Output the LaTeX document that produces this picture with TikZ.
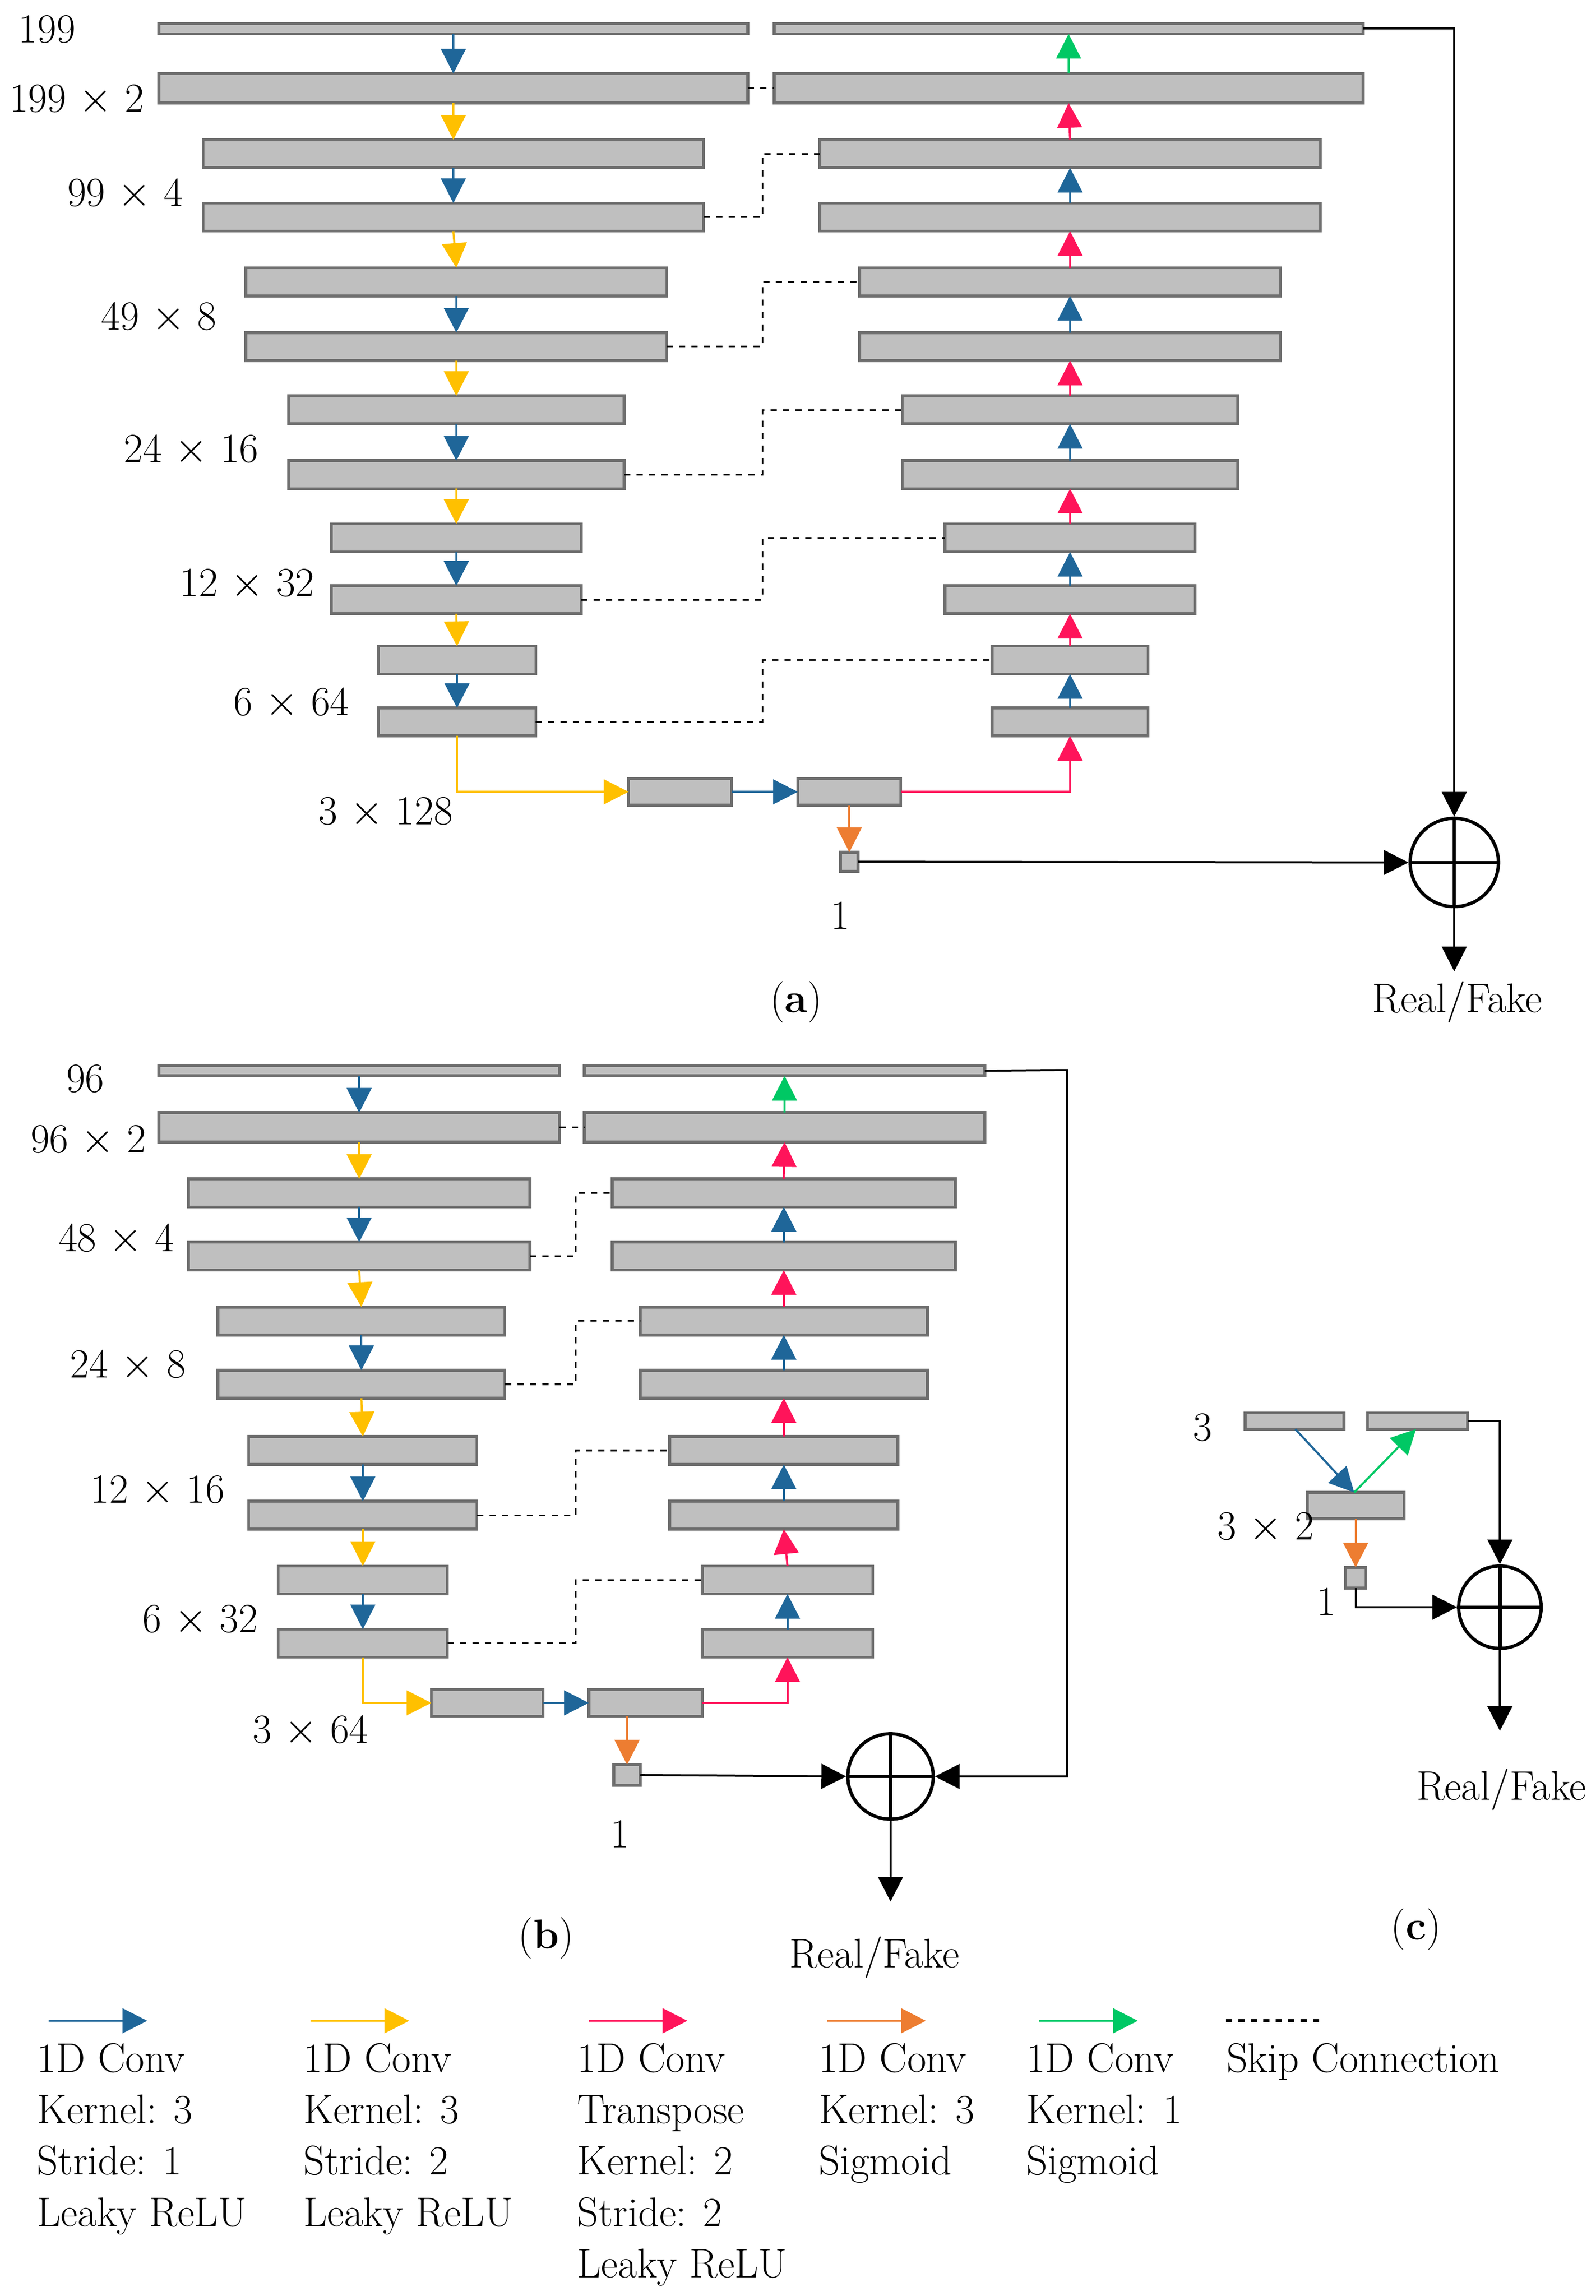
\documentclass[tikz,border=0pt]{standalone}
\usetikzlibrary{arrows.meta,calc}
\definecolor{cblue}{RGB}{31,102,153}
\definecolor{cyel}{RGB}{255,192,0}
\definecolor{cpink}{RGB}{255,20,90}
\definecolor{corg}{RGB}{237,125,49}
\definecolor{cgrn}{RGB}{0,200,100}
\definecolor{bfill}{RGB}{191,191,191}
\definecolor{bline}{RGB}{110,110,110}
\tikzset{
  blk/.style={draw=bline,fill=bfill,line width=1.4pt,inner sep=0pt,outer sep=0pt},
  tip/.style={-{Triangle[length=0.42cm,width=0.42cm]},line width=1pt},
  ab/.style={tip,draw=cblue},
  ay/.style={tip,draw=cyel},
  ap/.style={tip,draw=cpink},
  ao/.style={tip,draw=corg},
  ag/.style={tip,draw=cgrn},
  ak/.style={tip,draw=black},
  skip/.style={dashed,line width=0.8pt},
  lbl/.style={font=\fontsize{20}{24.8}\selectfont,inner sep=0pt},
  sum/.style={circle,draw,line width=1.6pt,minimum size=#1,inner sep=0pt},
}
% bar node: name, x1, x2, y1, y2
\newcommand\blk[5]{\node[blk,minimum width={(#3-#2)*0.025cm},minimum height={(#5-#4)*0.025cm}] (#1) at ({(#2+#3)/2},{(#4+#5)/2}) {};}
\begin{document}
\begin{tikzpicture}[x=0.025cm,y=-0.025cm]
  \useasboundingbox (0,0) rectangle (1084,1560);

  % ---- (a)
  \blk{aT}{108}{508}{16}{23}
  \blk{aL0}{108}{508}{50}{70}
  \blk{aRT}{526}{926}{16}{23}
  \blk{aR0}{526}{926}{50}{70}
  \foreach \i/\xa/\xb/\ya/\yb/\ra/\rb in {1/138/478/95/138/557/897,2/167/453/182/226/584/870,3/196/424/269/313/613/841,4/225/395/356/398/642/812,5/257/364/439/481/674/780}{
    \blk{aLu\i}{\xa}{\xb}{\ya}{\ya+19}
    \blk{aLd\i}{\xa}{\xb}{\yb}{\yb+19}
    \blk{aRu\i}{\ra}{\rb}{\ya}{\ya+19}
    \blk{aRd\i}{\ra}{\rb}{\yb}{\yb+19}
    \draw[ab] (aLu\i.south) -- (aLd\i.north);
    \draw[ab] (aRd\i.north) -- (aRu\i.south);
    \draw[skip] (aLd\i.east) -| (518,{\ya+9.5}) -- (aRu\i.west);
  }
  \foreach \i in {1,...,4}{
    \pgfmathtruncatemacro\j{\i+1}
    \draw[ay] (aLd\i.south) -- (aLu\j.north);
    \draw[ap] (aRu\j.north) -- (aRd\i.south);
  }
  \draw[ab] (aT.south) -- (aL0.north);
  \draw[ay] (aL0.south) -- (aLu1.north);
  \draw[ag] (aR0.north) -- (aRT.south);
  \draw[ap] (aRu1.north) -- (aR0.south);
  \draw[skip] (aL0.east) -- (aR0.west);
  \blk{aB1}{427}{497}{529}{547}
  \blk{aB2}{542}{612}{529}{547}
  \blk{aS}{571}{583}{579}{592}
  \draw[ay] (aLd5.south) |- (aB1.west);
  \draw[ab] (aB1.east) -- (aB2.west);
  \draw[ap] (aB2.east) -| (aRd5.south);
  \draw[ao] (577,547) -- (aS.north);
  \node[sum=1.5cm] (aSum) at (988,586) {};
  \draw[line width=1.6pt] (aSum.north) -- (aSum.south) (aSum.west) -- (aSum.east);
  \draw[ak] (aS.east) -- (aSum.west);
  \draw[ak] (aRT.east) -| (aSum.north);
  \coordinate (aOut) at (988,660);
  \draw[ak] (aSum.south) -- (aOut);
  \node[lbl] (la1) at (32,20) {199};
  \node[lbl] (la2) at (52,68) {199 $\times$ 2};
  \node[lbl] (la3) at (85,132) {99 $\times$ 4};
  \node[lbl] (la4) at (108,216) {49 $\times$ 8};
  \node[lbl] (la5) at (130,306) {24 $\times$ 16};
  \node[lbl] (la6) at (168,397) {12 $\times$ 32};
  \node[lbl] (la7) at (198,478) {6 $\times$ 64};
  \node[lbl] (la8) at (262,552) {3 $\times$ 128};
  \node[lbl] (la9) at (571,622) {1};
  \node[lbl] (laC) at (541,681) {(\textbf{a})};
  \node[lbl] (laR) at (990,681) {Real/Fake};

  % ---- (b)
  \blk{bT}{108}{380}{724}{731}
  \blk{bL0}{108}{380}{756}{776}
  \blk{bRT}{397}{669}{724}{731}
  \blk{bR0}{397}{669}{756}{776}
  \foreach \i/\xa/\xb/\ya/\yb/\ra/\rb in {1/128/360/801/844/416/649,2/148/343/888/931/435/630,3/169/324/976/1020/455/610,4/189/304/1064/1107/477/593}{
    \blk{bLu\i}{\xa}{\xb}{\ya}{\ya+19}
    \blk{bLd\i}{\xa}{\xb}{\yb}{\yb+19}
    \blk{bRu\i}{\ra}{\rb}{\ya}{\ya+19}
    \blk{bRd\i}{\ra}{\rb}{\yb}{\yb+19}
    \draw[ab] (bLu\i.south) -- (bLd\i.north);
    \draw[ab] (bRd\i.north) -- (bRu\i.south);
    \draw[skip] (bLd\i.east) -| (391,{\ya+9.5}) -- (bRu\i.west);
  }
  \foreach \i in {1,...,3}{
    \pgfmathtruncatemacro\j{\i+1}
    \draw[ay] (bLd\i.south) -- (bLu\j.north);
    \draw[ap] (bRu\j.north) -- (bRd\i.south);
  }
  \draw[ab] (bT.south) -- (bL0.north);
  \draw[ay] (bL0.south) -- (bLu1.north);
  \draw[ag] (bR0.north) -- (bRT.south);
  \draw[ap] (bRu1.north) -- (bR0.south);
  \draw[skip] (bL0.east) -- (bR0.west);
  \blk{bB1}{293}{369}{1148}{1166}
  \blk{bB2}{400}{477}{1148}{1166}
  \blk{bS}{417}{435}{1199}{1213}
  \draw[ay] (bLd4.south) |- (bB1.west);
  \draw[ab] (bB1.east) -- (bB2.west);
  \draw[ap] (bB2.east) -| (bRd4.south);
  \draw[ao] (426,1166) -- (bS.north);
  \node[sum=1.45cm] (bSum) at (605,1207) {};
  \draw[line width=1.6pt] (bSum.north) -- (bSum.south) (bSum.west) -- (bSum.east);
  \draw[ak] (bS.east) -- (bSum.west);
  \draw[ak] (bRT.east) -- (725,727) |- (bSum.east);
  \coordinate (bOut) at (605,1292);
  \draw[ak] (bSum.south) -- (bOut);
  \node[lbl] (lb1) at (58,733) {96};
  \node[lbl] (lb2) at (60,775) {96 $\times$ 2};
  \node[lbl] (lb3) at (79,842) {48 $\times$ 4};
  \node[lbl] (lb4) at (87,928) {24 $\times$ 8};
  \node[lbl] (lb5) at (107,1013) {12 $\times$ 16};
  \node[lbl] (lb6) at (136,1101) {6 $\times$ 32};
  \node[lbl] (lb7) at (211,1176) {3 $\times$ 64};
  \node[lbl] (lb8) at (421,1246) {1};
  \node[lbl] (lbC) at (371,1317) {(\textbf{b})};
  \node[lbl] (lbR) at (594,1330) {Real/Fake};

  % ---- (c)
  \blk{cL}{846}{913}{960}{971}
  \blk{cR}{929}{997}{960}{971}
  \blk{cM}{888}{954}{1014}{1032}
  \blk{cS}{914}{928}{1065}{1079}
  \coordinate (cMt) at (920,1014);
  \coordinate (cRb) at (962,971);
  \draw[ab] (880,971) -- (cMt);
  \draw[ag] (cMt) -- (cRb);
  \draw[ao] (921,1032) -- (cS.north);
  \node[sum=1.4cm] (cSum) at (1019,1092) {};
  \draw[line width=1.6pt] (cSum.north) -- (cSum.south) (cSum.west) -- (cSum.east);
  \draw[ak] (cR.east) -| (cSum.north);
  \draw[ak] (cS.south) |- (cSum.west);
  \coordinate (cOut) at (1019,1176);
  \draw[ak] (cSum.south) -- (cOut);
  \node[lbl] (lc1) at (817,970) {3};
  \node[lbl] (lc2) at (860,1038) {3 $\times$ 2};
  \node[lbl] (lc3) at (901,1088) {1};
  \node[lbl] (lcC) at (962,1311) {(\textbf{c})};
  \node[lbl] (lcR) at (1020,1216) {Real/Fake};

  % ---- legend
  \foreach \n/\x/\s in {k1/33/ab,k2/211/ay,k3/400/ap,k4/562/ao,k5/706/ag}{
    \coordinate (\n a) at (\x,1373);
    \coordinate (\n b) at (\x+67,1373);
    \draw[\s] (\n a) -- (\n b);
  }
  \coordinate (k6a) at (833,1373);
  \coordinate (k6b) at (900,1373);
  \draw[skip,line width=1.6pt] (k6a) -- (k6b);
  \foreach \n/\x/\t in {t1/25/{1D Conv\\Kernel: 3\\Stride: 1\\Leaky ReLU},
    t2/206/{1D Conv\\Kernel: 3\\Stride: 2\\Leaky ReLU},
    t3/392/{1D Conv\\Transpose\\Kernel: 2\\Stride: 2\\Leaky ReLU},
    t4/556/{1D Conv\\Kernel: 3\\Sigmoid},
    t5/697/{1D Conv\\Kernel: 1\\Sigmoid},
    t6/833/{Skip Connection}}{
    \node[lbl,anchor=north west,align=left] (\n) at (\x,1388) {\t};
  }
\end{tikzpicture}
\end{document}
